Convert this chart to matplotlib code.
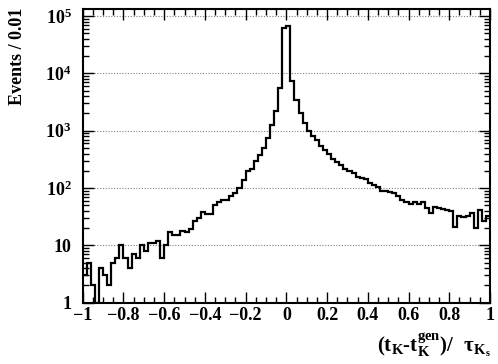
import numpy as np
import matplotlib
matplotlib.use("Agg")
import matplotlib.pyplot as plt
from matplotlib.ticker import FixedLocator, FuncFormatter, LogLocator, MultipleLocator

# ---- data ----
x_min, x_max, n_bins = -1.0, 1.0, 100
counts = [3, 5, 2, 1, 4, 3, 2, 5, 6, 10,
          6, 4, 7, 6, 10, 8, 11, 11, 12, 6,
          10, 17, 15, 15, 18, 17, 19, 27, 30, 38,
          35, 35, 51, 57, 62, 63, 72, 82, 100, 136,
          199, 218, 300, 370, 508, 735, 1270, 2250, 5450, 62000,
          67000, 7400, 3380, 2000, 1380, 1000, 810, 675, 540, 460,
          385, 325, 290, 250, 212, 199, 180, 153, 148, 146,
          124, 115, 105, 88, 90, 86, 82, 73, 63, 57,
          52, 57, 52, 58, 45, 36, 46, 44, 43, 42,
          40, 21, 33, 31, 33, 36, 20, 42, 27, 32]
x_ticks = [-1, -0.8, -0.6, -0.4, -0.2, 0, 0.2, 0.4, 0.6, 0.8, 1]
x_tick_labels = ["\u22121", "\u22120.8", "\u22120.6", "\u22120.4", "\u22120.2", "0",
                 "0.2", "0.4", "0.6", "0.8", "1"]
y_ticks = [1, 10, 100, 1000, 10000, 100000]
y_tick_labels = ["1", "10", r"$10^{2}$", r"$10^{3}$", r"$10^{4}$", r"$10^{5}$"]
y_max = 1.31e5
x_label = r"$(t_K$-$t_K^{gen})/\ \ \tau_{K_s}$"
y_label = "Events / 0.01"

# ---- style ----
plt.rcParams["font.family"] = ["Liberation Serif", "DejaVu Serif"]
plt.rcParams["font.weight"] = "bold"
plt.rcParams["mathtext.fontset"] = "custom"
plt.rcParams["mathtext.rm"] = "Liberation Serif:bold"
plt.rcParams["mathtext.it"] = "Liberation Serif:bold"
plt.rcParams["mathtext.bf"] = "Liberation Serif:bold"
plt.rcParams["mathtext.default"] = "rm"

W, H = 498, 364
fig = plt.figure(figsize=(W / 100, H / 100), dpi=100)
L, R, T, B = 82.7, 490.0, 9.3, 302.7
ax = fig.add_axes([L / W, 1 - B / H, (R - L) / W, (B - T) / H])

edges = np.linspace(x_min, x_max, n_bins + 1)
ax.stairs(counts, edges, color="black", lw=1.6, baseline=None, zorder=3)

ax.set_yscale("log")
ax.set_xlim(x_min, x_max)
ax.set_ylim(1, y_max)

ax.xaxis.set_major_locator(FixedLocator(x_ticks))
ax.set_xticklabels(x_tick_labels)
ax.xaxis.set_minor_locator(MultipleLocator(0.05))
ax.yaxis.set_major_locator(FixedLocator(y_ticks))
ax.set_yticklabels(y_tick_labels)
ax.yaxis.set_minor_locator(LogLocator(base=10, subs=np.arange(2, 10), numticks=20))

for grid_y in y_ticks[1:]:
    ax.axhline(grid_y, color="#808080", lw=0.8, ls=(0, (1, 1.5)), zorder=1)

ax.tick_params(which="both", direction="in", top=True, right=True, width=1.0,
               labelsize=13)
ax.tick_params(which="major", length=8)
ax.tick_params(which="minor", length=4)
ax.tick_params(axis="x", pad=3)
ax.tick_params(axis="y", pad=8)
for lab in ax.get_xticklabels() + ax.get_yticklabels():
    lab.set_fontweight("bold")
for sp in ax.spines.values():
    sp.set_linewidth(1.5)

fig.text(491 / W, 1 - 352 / H, x_label, ha="right", va="baseline", fontsize=15)
fig.text(17 / W, 1 - 8 / H, y_label, rotation=90, ha="center", va="top",
         fontsize=13, fontweight="bold")

fig.savefig("out.png", dpi=100)
